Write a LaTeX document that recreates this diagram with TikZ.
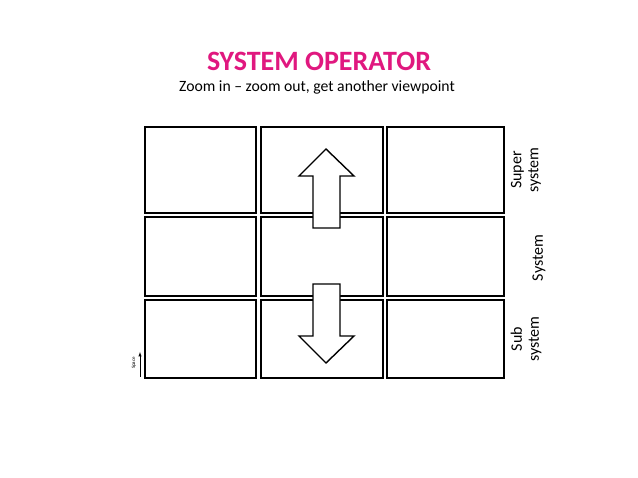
\documentclass[tikz,border=0pt]{standalone}
\usepackage{fontspec}
\setmainfont{Carlito}
\definecolor{mag}{HTML}{E0187F}
\begin{document}
\begin{tikzpicture}[x=1pt,y=-1pt,
  cell/.style={draw,line width=1.6pt},
  bigarrow/.style={draw,fill=white,line width=1.4pt,line join=miter},
  lab/.style={rotate=90,align=center,font=\fontsize{16}{17}\selectfont}]
\useasboundingbox (0,0) rectangle (638,478);
\node[font=\fontsize{28}{30}\selectfont\bfseries,text=mag] (title) at (319,61) {SYSTEM OPERATOR};
\node[font=\fontsize{15.7}{17}\selectfont] (sub) at (317,87) {Zoom in -- zoom out, get another viewpoint};
\foreach \xa/\xb [count=\i] in {145/256,261/383,387/504}
  \foreach \ya/\yb [count=\j] in {127/213,217/296,300/378}
    \draw[cell] (\xa,\ya) rectangle (\xb,\yb);
\draw[bigarrow] (326,149) -- (354,176) -- (340,176) -- (340,228) -- (313,228) -- (313,176) -- (299,176) -- cycle;
\draw[bigarrow] (326,363) -- (354,336) -- (340,336) -- (340,284) -- (313,284) -- (313,336) -- (299,336) -- cycle;
\node[lab] (super) at (526,170) {Super\\system};
\node[lab] (system) at (539,258) {System};
\node[lab] (subs) at (526,339) {Sub\\system};
\node[rotate=90,font=\fontsize{5}{5}\selectfont] (space) at (134,363) {Space};
\coordinate (sa) at (140,377);
\coordinate (sb) at (140,352);
\draw[-latex,line width=0.5pt] (sa) -- (sb);
\end{tikzpicture}
\end{document}
